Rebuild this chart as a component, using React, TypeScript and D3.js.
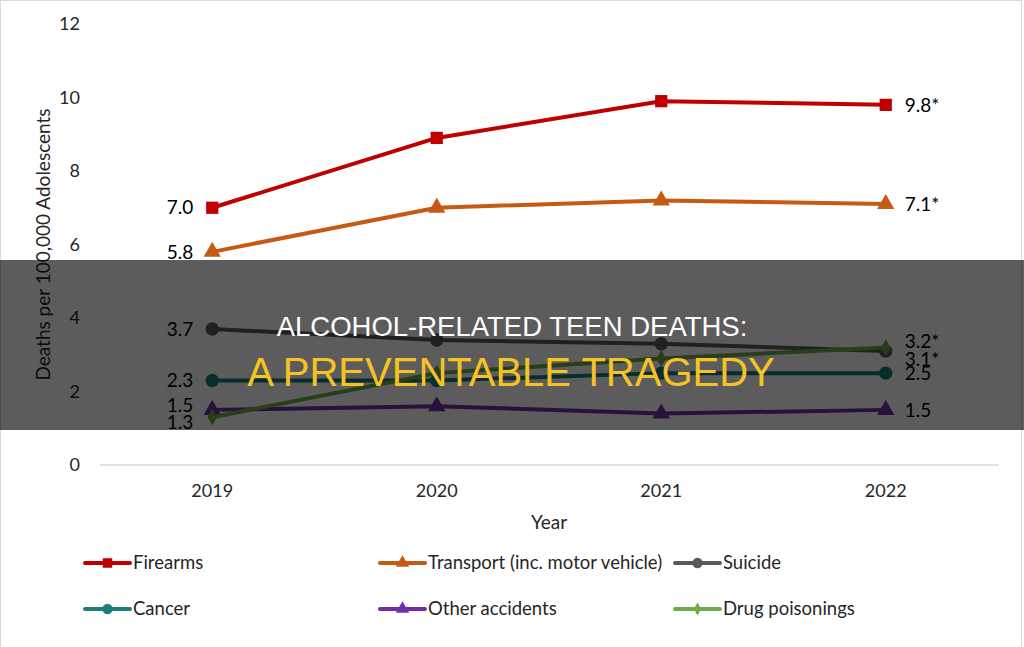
import * as d3 from 'd3';

// adolescent deaths per 100,000, by cause
const years = ['2019', '2020', '2021', '2022'];
const causes = [
  'Firearms',
  'Transport (inc. motor vehicle)',
  'Suicide',
  'Cancer',
  'Other accidents',
  'Drug poisonings',
];
const firearms = [7.0, 8.9, 9.9, 9.8];
const transport = [5.8, 7.0, 7.2, 7.1];
const suicide = [3.7, 3.4, 3.3, 3.1];
const cancer = [2.3, 2.3, 2.5, 2.5];
const otherAccidents = [1.5, 1.6, 1.4, 1.5];
const drugPoisonings = [1.3, 2.5, 2.9, 3.2];
// asterisk on the 2022 figure
const starred = [true, true, true, false, false, true];
const yTicks = [0, 2, 4, 6, 8, 10, 12];

const seriesValues = [firearms, transport, suicide, cancer, otherAccidents, drugPoisonings];
const colors = ['#c00000', '#c55a11', '#595959', '#1e7b7e', '#7030a0', '#70ad47'];
const shapes = ['square', 'triangle', 'circle', 'circle', 'triangle', 'diamond'];
// small vertical nudges so crowded end labels don't collide
const leftNudge = [0, 0, 0, 0, -5, 5];
const rightNudge = [0, 0, 8, 0, 0, -6];

const W = 1024;
const H = 647;
const FONT = 'Lato, "Open Sans", sans-serif';

const symbolFor = (shape: string, k = 1) => {
  switch (shape) {
    case 'square':
      return d3.symbol(d3.symbolSquare, 150 * k);
    case 'triangle':
      return d3.symbol(d3.symbolTriangle, 130 * k);
    case 'diamond':
      return d3.symbol(d3.symbolDiamond, 80 * k);
    default:
      return d3.symbol(d3.symbolCircle, 140 * k);
  }
};

export default function App() {
  const x = d3.scaleBand<string>().domain(years).range([100, 998]).paddingInner(0);
  const cx = (yr: string) => (x(yr) ?? 0) + x.bandwidth() / 2;
  const y = d3.scaleLinear().domain([0, 12]).range([465, 24]);

  const line = d3
    .line<number>()
    .x((_, i) => cx(years[i]))
    .y((d) => y(d));

  const legendCols = [85, 380, 675];
  const legendRows = [563, 609];

  return (
    <svg
      width={W}
      height={H}
      style={{ position: 'absolute', left: 0, top: 0, background: '#fff' }}
      fontFamily={FONT}
    >
      <rect x={0.5} y={0.5} width={1021} height={H} fill="#fff" stroke="#d9d9d9" />

      {/* y tick labels */}
      {yTicks.map((t) => (
        <text key={t} x={80} y={y(t)} dy="0.35em" textAnchor="end" fontSize={18} fill="#262626">
          {t}
        </text>
      ))}
      <text
        transform={`translate(50,${(y(0) + y(12)) / 2}) rotate(-90)`}
        textAnchor="middle"
        fontSize={19}
        fill="#262626"
      >
        Deaths per 100,000 Adolescents
      </text>

      {/* category axis */}
      <line x1={100} x2={999} y1={y(0)} y2={y(0)} stroke="#d9d9d9" strokeWidth={1.5} />
      {years.map((yr) => (
        <text key={yr} x={cx(yr)} y={497} textAnchor="middle" fontSize={18} fill="#262626">
          {yr}
        </text>
      ))}
      <text x={549} y={529} textAnchor="middle" fontSize={19} fill="#262626">
        Year
      </text>

      {/* series */}
      {seriesValues.map((vals, s) => (
        <g key={causes[s]}>
          <path d={line(vals) ?? ''} fill="none" stroke={colors[s]} strokeWidth={4} strokeLinejoin="round" />
          {vals.map((v, i) => (
            <path
              key={i}
              transform={`translate(${cx(years[i])},${y(v)})`}
              d={symbolFor(shapes[s])() ?? ''}
              fill={colors[s]}
            />
          ))}
          <text
            x={cx(years[0]) - 19}
            y={y(vals[0]) + leftNudge[s]}
            dy="0.35em"
            textAnchor="end"
            fontSize={19}
            fill="#000"
          >
            {vals[0].toFixed(1)}
          </text>
          <text
            x={cx(years[years.length - 1]) + 19}
            y={y(vals[vals.length - 1]) + rightNudge[s]}
            dy="0.35em"
            fontSize={19}
            fill="#000"
          >
            {vals[vals.length - 1].toFixed(1) + (starred[s] ? '*' : '')}
          </text>
        </g>
      ))}

      {/* legend */}
      {causes.map((c, s) => {
        const lx = legendCols[s % 3];
        const ly = legendRows[Math.floor(s / 3)];
        return (
          <g key={c} transform={`translate(${lx},${ly})`}>
            <line x1={0} x2={45} y1={0} y2={0} stroke={colors[s]} strokeWidth={4} strokeLinecap="round" />
            <path transform="translate(22.5,0)" d={symbolFor(shapes[s], 0.6)() ?? ''} fill={colors[s]} />
            <text x={48} y={0} dy="0.35em" fontSize={18.5} fill="#262626">
              {c}
            </text>
          </g>
        );
      })}

      {/* title banner */}
      <rect x={0} y={260} width={W} height={170} fill="#000" fillOpacity={0.64} />
      <text
        x={512}
        y={336}
        textAnchor="middle"
        fontFamily='"Liberation Sans", Arial, sans-serif'
        fontSize={27.5}
        fill="#fff"
      >
        ALCOHOL-RELATED TEEN DEATHS:
      </text>
      <text
        x={511}
        y={386}
        textAnchor="middle"
        fontFamily='"Liberation Sans", Arial, sans-serif'
        fontSize={40}
        fill="#f6c324"
      >
        A PREVENTABLE TRAGEDY
      </text>
    </svg>
  );
}
